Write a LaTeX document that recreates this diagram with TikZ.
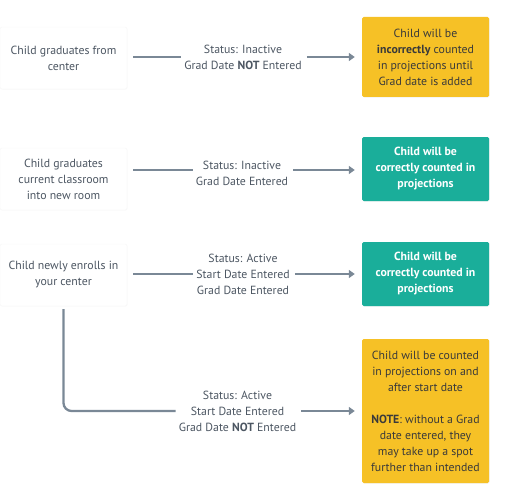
\documentclass[tikz,border=0pt]{standalone}
\usepackage{fontspec}
\setmainfont{PT Sans}
\usepackage{xcolor}
\usepackage{tikz}
\usetikzlibrary{arrows.meta, shadows}

\definecolor{txtgray}{RGB}{76,86,98}
\definecolor{linegray}{RGB}{122,136,150}
\definecolor{notegold}{RGB}{246,193,38}
\definecolor{okteal}{RGB}{26,174,154}
\definecolor{notetext}{RGB}{58,58,58}

\tikzstyle{srcbox} = [
    draw=black!3,
    fill=white,
    rounded corners=2pt,
    minimum width=127pt,
    minimum height=62pt,
    align=center,
    text=txtgray,
    font=\fontsize{11.8}{16}\selectfont,
    drop shadow={opacity=0.05, shadow xshift=0.6pt, shadow yshift=-0.6pt}
]
\tikzstyle{resbox} = [
    rounded corners=1.5pt,
    minimum width=127pt,
    align=center,
    font=\fontsize{11.8}{16}\selectfont,
    drop shadow={opacity=0.12, shadow xshift=0.6pt, shadow yshift=-0.6pt}
]
\tikzstyle{badbox} = [resbox, fill=notegold, text=notetext]
\tikzstyle{goodbox} = [resbox, fill=okteal, text=white, font=\fontsize{11.8}{16}\selectfont\bfseries]
\tikzstyle{statlabel} = [
    align=center,
    inner sep=3pt,
    text=txtgray,
    font=\fontsize{11.8}{16}\selectfont
]
\tikzstyle{link} = [
    line width=2.3pt,
    draw=linegray,
    shorten <=6pt
]
\tikzstyle{arrow} = [
    line width=2.3pt,
    draw=linegray,
    -{Triangle[length=6pt,width=8pt]},
    shorten <=2pt,
    shorten >=7pt
]

\begin{document}
\begin{tikzpicture}[x=1pt,y=-1pt]

\useasboundingbox (0,0) rectangle (512,495);

\node[srcbox] (src1) at (63.5,58) {Child graduates from\\center};

\node[srcbox] (src2) at (63.5,179) {Child graduates\\current classroom\\into new room};

\node[srcbox] (src3) at (63.5,275) {Child newly enrolls in\\your center};

\node[badbox, minimum height=80pt] (res1) at (425.5,57)
{Child will be\\\textbf{incorrectly} counted\\in projections until\\Grad date is added};

\node[goodbox, minimum height=64pt] (res2) at (425.5,169)
{Child will be\\correctly counted in\\projections};

\node[goodbox, minimum height=64pt] (res3) at (425.5,274)
{Child will be\\correctly counted in\\projections};

\node[badbox, minimum height=144pt] (res4) at (425.5,411)
{Child will be counted\\in projections on and\\after start date\\[16pt]\textbf{NOTE}: without a Grad\\date entered, they\\may take up a spot\\further than intended};

\node[statlabel] (stat1) at (243,57) {Status: Inactive\\Grad Date \textbf{NOT} Entered};

\node[statlabel] (stat2) at (242,173) {Status: Inactive\\Grad Date Entered};

\node[statlabel] (stat3) at (243,274) {Status: Active\\Start Date Entered\\Grad Date Entered};

\node[statlabel] (stat4) at (237.5,411) {Status: Active\\Start Date Entered\\Grad Date \textbf{NOT} Entered};

\draw[link] (src1.east |- stat1.west) -- (stat1.west);

\draw[arrow] (stat1.east) -- (stat1.east -| res1.west);

\draw[link] (src2.east |- 0,170) -- (stat2.west |- 0,170);

\draw[arrow] (stat2.east |- 0,170) -- (res2.west |- 0,170);

\draw[link] (src3.east |- stat3.west) -- (stat3.west);

\draw[arrow] (stat3.east) -- (stat3.east -| res3.west);

\draw[link, shorten <=3pt, rounded corners=8pt] (src3.south) -- (src3.south |- stat4.west) -- (stat4.west);

\draw[arrow] (stat4.east) -- (stat4.east -| res4.west);

\end{tikzpicture}
\end{document}
